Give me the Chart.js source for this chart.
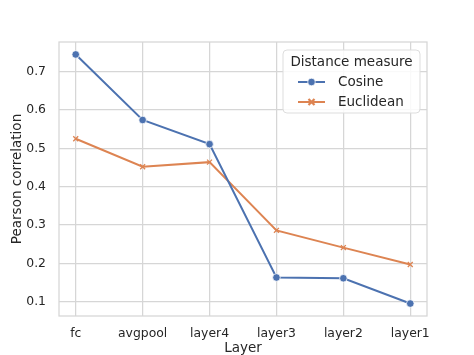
<!DOCTYPE html>
<html>
<head>
<meta charset="utf-8">
<script src="https://cdn.jsdelivr.net/npm/chart.js@4.4.0/dist/chart.umd.min.js"></script>
<style>
  html, body { margin: 0; padding: 0; background: #ffffff; }
  #wrap { width: 474px; height: 355px; }
</style>
</head>
<body>
<div id="wrap"><canvas id="c" width="474" height="355"></canvas></div>
<script>
const layers = ["fc", "avgpool", "layer4", "layer3", "layer2", "layer1"];
const cosine = [0.745, 0.574, 0.511, 0.163, 0.161, 0.095];
const euclidean = [0.525, 0.452, 0.464, 0.286, 0.241, 0.197];
const yTicks = [0.1, 0.2, 0.3, 0.4, 0.5, 0.6, 0.7];
const seriesNames = ["Cosine", "Euclidean"];
const legendTitle = "Distance measure";
const xTitle = "Layer";
const yTitle = "Pearson correlation";

const BLUE = "#4C72B0";
const ORANGE = "#DD8452";
const GRID = "#d6d6d6";
const TEXT = "#262626";
const FONT = "'DejaVu Sans', sans-serif";

const toPts = arr => arr.map((v, i) => ({ x: i, y: v }));

const boxAndLegend = {
  id: "boxAndLegend",
  afterDatasetsDraw(chart) {
    const { ctx, chartArea: a } = chart;
    ctx.save();
    ctx.strokeStyle = GRID;
    ctx.lineWidth = 1.25;
    ctx.strokeRect(a.left, a.top, a.right - a.left, a.bottom - a.top);
    ctx.restore();
  },
  afterDraw(chart) {
    const { ctx } = chart;
    ctx.save();
    const bx = 283, by = 50, bw = 137, bh = 63, r = 4;
    ctx.beginPath();
    ctx.moveTo(bx + r, by);
    ctx.lineTo(bx + bw - r, by);
    ctx.quadraticCurveTo(bx + bw, by, bx + bw, by + r);
    ctx.lineTo(bx + bw, by + bh - r);
    ctx.quadraticCurveTo(bx + bw, by + bh, bx + bw - r, by + bh);
    ctx.lineTo(bx + r, by + bh);
    ctx.quadraticCurveTo(bx, by + bh, bx, by + bh - r);
    ctx.lineTo(bx, by + r);
    ctx.quadraticCurveTo(bx, by, bx + r, by);
    ctx.closePath();
    ctx.fillStyle = "rgba(255,255,255,0.85)";
    ctx.fill();
    ctx.strokeStyle = "#dddddd";
    ctx.lineWidth = 1;
    ctx.stroke();

    ctx.fillStyle = TEXT;
    ctx.textBaseline = "middle";
    ctx.textAlign = "center";
    ctx.font = "13.5px " + FONT;
    ctx.fillText(legendTitle, bx + bw / 2, 62);

    const rows = [
      { name: seriesNames[0], color: BLUE, y: 82, style: "circle" },
      { name: seriesNames[1], color: ORANGE, y: 102, style: "x" }
    ];
    rows.forEach(rw => {
      ctx.strokeStyle = rw.color;
      ctx.lineWidth = 2;
      ctx.beginPath();
      ctx.moveTo(298, rw.y);
      ctx.lineTo(325, rw.y);
      ctx.stroke();
      const mx = 311.5;
      if (rw.style === "circle") {
        ctx.beginPath();
        ctx.arc(mx, rw.y, 3.8, 0, Math.PI * 2);
        ctx.fillStyle = rw.color;
        ctx.fill();
        ctx.strokeStyle = "#ffffff";
        ctx.lineWidth = 0.75;
        ctx.stroke();
      } else {
        ctx.strokeStyle = rw.color;
        ctx.lineWidth = 2.2;
        const d = 3;
        ctx.beginPath();
        ctx.moveTo(mx - d, rw.y - d); ctx.lineTo(mx + d, rw.y + d);
        ctx.moveTo(mx - d, rw.y + d); ctx.lineTo(mx + d, rw.y - d);
        ctx.stroke();
      }
      ctx.fillStyle = TEXT;
      ctx.textAlign = "left";
      ctx.font = "13.5px " + FONT;
      ctx.fillText(rw.name, 338, rw.y);
    });
    ctx.restore();
  }
};

new Chart(document.getElementById("c"), {
  type: "line",
  data: {
    datasets: [
      {
        label: seriesNames[0],
        data: toPts(cosine),
        borderColor: BLUE,
        backgroundColor: BLUE,
        borderWidth: 2,
        pointStyle: "circle",
        pointRadius: 3.8,
        pointBackgroundColor: BLUE,
        pointBorderColor: "#ffffff",
        pointBorderWidth: 0.75,
        tension: 0
      },
      {
        label: seriesNames[1],
        data: toPts(euclidean),
        borderColor: ORANGE,
        backgroundColor: ORANGE,
        borderWidth: 2,
        pointStyle: "crossRot",
        pointRadius: 3.5,
        pointBorderColor: ORANGE,
        pointBorderWidth: 1.3,
        tension: 0
      }
    ]
  },
  options: {
    responsive: false,
    animation: false,
    devicePixelRatio: 1,
    layout: { padding: { left: 0, right: 47, top: 42, bottom: 0 } },
    plugins: {
      legend: { display: false },
      tooltip: { enabled: false }
    },
    scales: {
      x: {
        type: "linear",
        min: -0.25,
        max: 5.25,
        afterFit: s => { s.height = 355 - 316; },
        ticks: {
          stepSize: 1,
          includeBounds: false,
          autoSkip: false,
          maxRotation: 0,
          padding: 10,
          color: TEXT,
          font: { family: FONT, size: 12.4 },
          callback: v => layers[v] !== undefined ? layers[v] : ""
        },
        grid: { color: GRID, lineWidth: 1.25, drawTicks: false },
        border: { display: false },
        title: {
          display: true,
          text: xTitle,
          color: TEXT,
          font: { family: FONT, size: 13.5 },
          padding: { top: 0, bottom: -2 }
        }
      },
      y: {
        min: 0.0625,
        max: 0.7775,
        afterFit: s => { s.width = 59; },
        afterBuildTicks: s => { s.ticks = yTicks.map(v => ({ value: v })); },
        ticks: {
          padding: 13,
          color: TEXT,
          font: { family: FONT, size: 12.4 },
          callback: v => v.toFixed(1)
        },
        grid: { color: GRID, lineWidth: 1.25, drawTicks: false },
        border: { display: false },
        title: {
          display: true,
          text: yTitle,
          color: TEXT,
          font: { family: FONT, size: 13.5 },
          padding: { top: 9, bottom: 0 }
        }
      }
    }
  },
  plugins: [boxAndLegend]
});
</script>
</body>
</html>
